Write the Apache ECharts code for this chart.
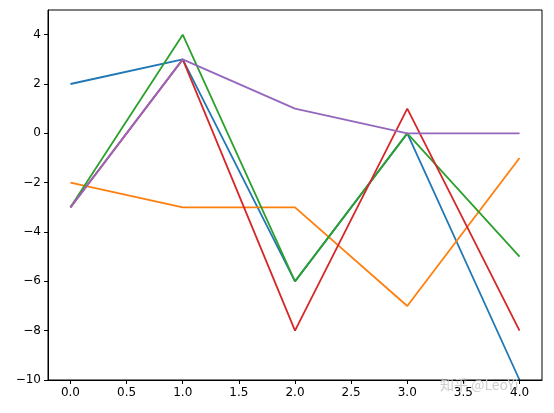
<!DOCTYPE html>
<html>
<head>
<meta charset="utf-8">
<script src="https://cdn.jsdelivr.net/npm/echarts@6/dist/echarts.min.js"></script>
<style>html,body{margin:0;padding:0;background:#fff}#main{width:554px;height:413px}</style>
</head>
<body>
<div id="main"></div>
<script>
var xs = [0, 1, 2, 3, 4];
var blue = [2, 3, -6, 0, -10];
var orange = [-2, -3, -3, -7, -1];
var green = [-3, 4, -6, 0, -5];
var red = [-3, 3, -8, 1, -8];
var purple = [-3, 3, 1, 0, 0];
var xTicks = [0, 0.5, 1, 1.5, 2, 2.5, 3, 3.5, 4];
var yTicks = [-10, -8, -6, -4, -2, 0, 2, 4];

var colors = ['#1f77b4', '#ff7f0e', '#2ca02c', '#d62728', '#9467bd'];
var allSeries = [blue, orange, green, red, purple];

function pairs(ys) {
    return xs.map(function (x, i) { return [x, ys[i]]; });
}

var myChart = echarts.init(document.getElementById('main'));
var option = {
    animation: false,
    grid: { left: 48, right: 12, top: 10, bottom: 33 },
    xAxis: {
        type: 'value', min: -0.2, max: 4.2,
        axisLine: { onZero: false, lineStyle: { color: '#000' } },
        axisTick: { customValues: xTicks, length: 4, lineStyle: { color: '#000' } },
        axisLabel: {
            customValues: xTicks, color: '#000', fontSize: 12, fontFamily: 'DejaVu Sans', margin: 7,
            formatter: function (v) { return v.toFixed(1); }
        },
        splitLine: { show: false }
    },
    yAxis: {
        type: 'value', min: -10, max: 5,
        axisLine: { show: true, onZero: false, lineStyle: { color: '#000' } },
        axisTick: { show: true, customValues: yTicks, length: 4, lineStyle: { color: '#000' } },
        axisLabel: {
            customValues: yTicks, color: '#000', fontSize: 12, fontFamily: 'DejaVu Sans', margin: 7,
            formatter: function (v) { return v < 0 ? '\u2212' + (-v) : String(v); }
        },
        splitLine: { show: false }
    },
    graphic: [
        { type: 'rect', shape: { x: 48, y: 10, width: 494, height: 370 }, style: { fill: 'none', stroke: '#000', lineWidth: 1 }, z: 10 },
        { type: 'text', left: 440, top: 378, style: { text: '知乎 @LeoYi', fill: 'rgba(200,200,200,0.9)', font: '14px "Noto Sans CJK SC"' }, z: 20 }
    ],
    series: allSeries.map(function (ys, i) {
        return {
            type: 'line', data: pairs(ys), symbol: 'none',
            lineStyle: { color: colors[i], width: 1.8 }, clip: false
        };
    })
};
myChart.setOption(option);
</script>
</body>
</html>
